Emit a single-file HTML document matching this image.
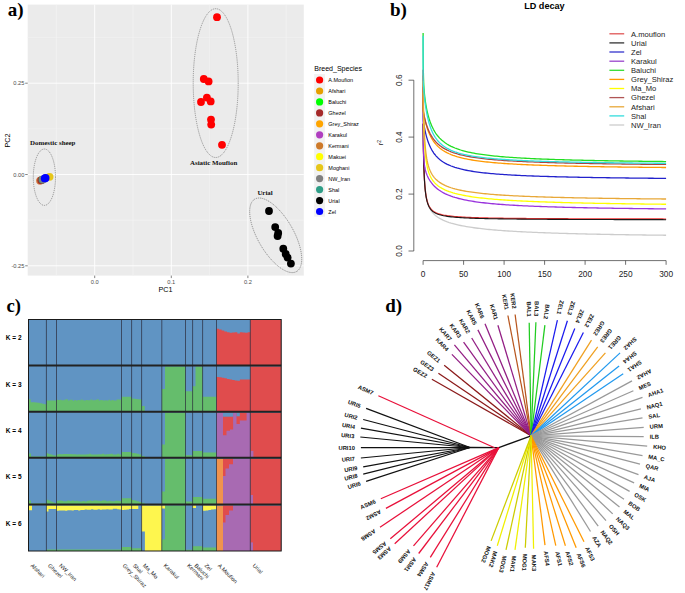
<!DOCTYPE html>
<html><head><meta charset="utf-8"><style>
html,body{margin:0;padding:0;background:#fff;}
body{width:685px;height:593px;overflow:hidden;font-family:"Liberation Sans",sans-serif;}
svg{display:block;}
</style></head><body>
<svg width="685" height="593" viewBox="0 0 685 593">
<rect width="685" height="593" fill="#fff"/>
<g id="pa">
<text transform="translate(7.7,15.8)" font-family='"Liberation Serif", serif' font-weight="bold" font-size="19">a)</text>
<rect x="27.7" y="4.6" width="276.1" height="271.0" fill="#ebebeb"/>
<line x1="56.4" y1="4.6" x2="56.4" y2="275.6" stroke="#f5f5f5" stroke-width="0.5"/>
<line x1="133.0" y1="4.6" x2="133.0" y2="275.6" stroke="#f5f5f5" stroke-width="0.5"/>
<line x1="209.6" y1="4.6" x2="209.6" y2="275.6" stroke="#f5f5f5" stroke-width="0.5"/>
<line x1="286.2" y1="4.6" x2="286.2" y2="275.6" stroke="#f5f5f5" stroke-width="0.5"/>
<line x1="27.7" y1="37.6" x2="303.8" y2="37.6" stroke="#f5f5f5" stroke-width="0.5"/>
<line x1="27.7" y1="128.8" x2="303.8" y2="128.8" stroke="#f5f5f5" stroke-width="0.5"/>
<line x1="27.7" y1="220.2" x2="303.8" y2="220.2" stroke="#f5f5f5" stroke-width="0.5"/>
<line x1="94.7" y1="4.6" x2="94.7" y2="275.6" stroke="#fff" stroke-width="0.9"/>
<line x1="94.7" y1="275.6" x2="94.7" y2="278.1" stroke="#333" stroke-width="0.6"/>
<text x="94.7" y="283.8" text-anchor="middle" font-family='"Liberation Sans", sans-serif' font-size="5.7" fill="#4d4d4d">0.0</text>
<line x1="171.3" y1="4.6" x2="171.3" y2="275.6" stroke="#fff" stroke-width="0.9"/>
<line x1="171.3" y1="275.6" x2="171.3" y2="278.1" stroke="#333" stroke-width="0.6"/>
<text x="171.3" y="283.8" text-anchor="middle" font-family='"Liberation Sans", sans-serif' font-size="5.7" fill="#4d4d4d">0.1</text>
<line x1="247.9" y1="4.6" x2="247.9" y2="275.6" stroke="#fff" stroke-width="0.9"/>
<line x1="247.9" y1="275.6" x2="247.9" y2="278.1" stroke="#333" stroke-width="0.6"/>
<text x="247.9" y="283.8" text-anchor="middle" font-family='"Liberation Sans", sans-serif' font-size="5.7" fill="#4d4d4d">0.2</text>
<line x1="27.7" y1="83.2" x2="303.8" y2="83.2" stroke="#fff" stroke-width="0.9"/>
<line x1="25.2" y1="83.2" x2="27.7" y2="83.2" stroke="#333" stroke-width="0.6"/>
<text x="24.4" y="85.3" text-anchor="end" font-family='"Liberation Sans", sans-serif' font-size="5.7" fill="#4d4d4d">0.25</text>
<line x1="27.7" y1="174.5" x2="303.8" y2="174.5" stroke="#fff" stroke-width="0.9"/>
<line x1="25.2" y1="174.5" x2="27.7" y2="174.5" stroke="#333" stroke-width="0.6"/>
<text x="24.4" y="176.6" text-anchor="end" font-family='"Liberation Sans", sans-serif' font-size="5.7" fill="#4d4d4d">0.00</text>
<line x1="27.7" y1="265.8" x2="303.8" y2="265.8" stroke="#fff" stroke-width="0.9"/>
<line x1="25.2" y1="265.8" x2="27.7" y2="265.8" stroke="#333" stroke-width="0.6"/>
<text x="24.4" y="267.9" text-anchor="end" font-family='"Liberation Sans", sans-serif' font-size="5.7" fill="#4d4d4d">-0.25</text>
<text x="165.5" y="292" text-anchor="middle" font-family='"Liberation Sans", sans-serif' font-size="7.2" fill="#000">PC1</text>
<text transform="translate(9.6,140.5) rotate(-90)" text-anchor="middle" font-family='"Liberation Sans", sans-serif' font-size="7.2" fill="#000">PC2</text>
<ellipse cx="44.4" cy="177.2" rx="11.1" ry="28.2" fill="none" stroke="#555" stroke-width="0.55" stroke-dasharray="1.2,0.9"/>
<ellipse cx="215.7" cy="83.1" rx="22.5" ry="74.4" fill="none" stroke="#555" stroke-width="0.55" stroke-dasharray="1.2,0.9"/>
<ellipse cx="0" cy="0" rx="41.8" ry="17.9" transform="translate(275.7,235.3) rotate(60)" fill="none" stroke="#555" stroke-width="0.55" stroke-dasharray="1.2,0.9"/>
<circle cx="217" cy="17.2" r="3.9" fill="#ff0000"/>
<circle cx="203.8" cy="79" r="3.9" fill="#ff0000"/>
<circle cx="208.6" cy="81.4" r="3.9" fill="#ff0000"/>
<circle cx="206.9" cy="97.6" r="3.9" fill="#ff0000"/>
<circle cx="201" cy="102" r="3.9" fill="#ff0000"/>
<circle cx="210.7" cy="101.4" r="3.9" fill="#ff0000"/>
<circle cx="211" cy="119.6" r="3.9" fill="#ff0000"/>
<circle cx="211.2" cy="124.6" r="3.9" fill="#ff0000"/>
<circle cx="222" cy="144.8" r="3.9" fill="#ff0000"/>
<circle cx="269" cy="211" r="3.9" fill="#000"/>
<circle cx="275.2" cy="227.1" r="3.9" fill="#000"/>
<circle cx="278.2" cy="233" r="3.9" fill="#000"/>
<circle cx="277.6" cy="236" r="3.9" fill="#000"/>
<circle cx="283.3" cy="248.7" r="3.9" fill="#000"/>
<circle cx="285.7" cy="254" r="3.9" fill="#000"/>
<circle cx="287.6" cy="257.6" r="3.9" fill="#000"/>
<circle cx="290.9" cy="263.6" r="3.9" fill="#000"/>
<circle cx="40.0" cy="180.8" r="3.9" fill="#e6a0a0"/>
<circle cx="40.2" cy="180.6" r="3.9" fill="#cd7f32"/>
<circle cx="41.3" cy="180.2" r="3.9" fill="#a52a2a"/>
<circle cx="42.5" cy="179.6" r="3.9" fill="#2e9e87"/>
<circle cx="43.2" cy="179.3" r="3.9" fill="#808080"/>
<circle cx="49.6" cy="176.8" r="3.9" fill="#e6c619"/>
<circle cx="44.7" cy="178.4" r="3.9" fill="#0000ff"/>
<circle cx="45.6" cy="177.9" r="3.9" fill="#0000ff"/>
<text x="30.1" y="145" font-family='"Liberation Serif", serif' font-weight="bold" font-size="6.9" fill="#111">Domestic sheep</text>
<text x="190" y="165.2" font-family='"Liberation Serif", serif' font-weight="bold" font-size="6.9" fill="#111">Asiatic Moufion</text>
<text x="257.4" y="195.2" font-family='"Liberation Serif", serif' font-weight="bold" font-size="6.9" fill="#111">Urial</text>
<text x="314.2" y="70.7" font-family='"Liberation Sans", sans-serif' font-size="7.05" fill="#000">Breed_Species</text>
<rect x="314.2" y="74" width="10.8" height="142.7" fill="#f2f2f2"/>
<circle cx="319.6" cy="80.0" r="3.6" fill="#ff0000"/>
<text x="328.3" y="82.0" font-family='"Liberation Sans", sans-serif' font-size="5.5" fill="#000">A.Moufion</text>
<circle cx="319.6" cy="91.0" r="3.6" fill="#e69f00"/>
<text x="328.3" y="93.0" font-family='"Liberation Sans", sans-serif' font-size="5.5" fill="#000">Afshari</text>
<circle cx="319.6" cy="101.9" r="3.6" fill="#00ff00"/>
<text x="328.3" y="103.9" font-family='"Liberation Sans", sans-serif' font-size="5.5" fill="#000">Baluchi</text>
<circle cx="319.6" cy="112.9" r="3.6" fill="#a52a2a"/>
<text x="328.3" y="114.9" font-family='"Liberation Sans", sans-serif' font-size="5.5" fill="#000">Ghezel</text>
<circle cx="319.6" cy="123.8" r="3.6" fill="#ffa500"/>
<text x="328.3" y="125.8" font-family='"Liberation Sans", sans-serif' font-size="5.5" fill="#000">Grey_Shiraz</text>
<circle cx="319.6" cy="134.8" r="3.6" fill="#b03fc0"/>
<text x="328.3" y="136.8" font-family='"Liberation Sans", sans-serif' font-size="5.5" fill="#000">Karakul</text>
<circle cx="319.6" cy="145.8" r="3.6" fill="#cd7a2a"/>
<text x="328.3" y="147.8" font-family='"Liberation Sans", sans-serif' font-size="5.5" fill="#000">Kermani</text>
<circle cx="319.6" cy="156.7" r="3.6" fill="#ffff00"/>
<text x="328.3" y="158.7" font-family='"Liberation Sans", sans-serif' font-size="5.5" fill="#000">Makuei</text>
<circle cx="319.6" cy="167.7" r="3.6" fill="#e6c619"/>
<text x="328.3" y="169.7" font-family='"Liberation Sans", sans-serif' font-size="5.5" fill="#000">Moghani</text>
<circle cx="319.6" cy="178.6" r="3.6" fill="#808080"/>
<text x="328.3" y="180.6" font-family='"Liberation Sans", sans-serif' font-size="5.5" fill="#000">NW_Iran</text>
<circle cx="319.6" cy="189.6" r="3.6" fill="#2e9e87"/>
<text x="328.3" y="191.6" font-family='"Liberation Sans", sans-serif' font-size="5.5" fill="#000">Shal</text>
<circle cx="319.6" cy="200.6" r="3.6" fill="#000000"/>
<text x="328.3" y="202.6" font-family='"Liberation Sans", sans-serif' font-size="5.5" fill="#000">Urial</text>
<circle cx="319.6" cy="211.5" r="3.6" fill="#0000ff"/>
<text x="328.3" y="213.5" font-family='"Liberation Sans", sans-serif' font-size="5.5" fill="#000">Zel</text>
</g>
<g id="pb">
<text transform="translate(390,15.8)" font-family='"Liberation Serif", serif' font-weight="bold" font-size="19">b)</text>
<text x="544.4" y="9" text-anchor="middle" font-family='"Liberation Sans", sans-serif' font-weight="bold" font-size="9.1">LD decay</text>
<line x1="413.8" y1="80.2" x2="413.8" y2="251.0" stroke="#333" stroke-width="0.7" fill="none"/>
<line x1="408.5" y1="251.0" x2="413.8" y2="251.0" stroke="#333" stroke-width="0.7" fill="none"/>
<text transform="translate(401.9,251.0) rotate(-90)" text-anchor="middle" font-family='"Liberation Sans", sans-serif' font-size="8.3" fill="#222">0.0</text>
<line x1="408.5" y1="194.1" x2="413.8" y2="194.1" stroke="#333" stroke-width="0.7" fill="none"/>
<text transform="translate(401.9,194.1) rotate(-90)" text-anchor="middle" font-family='"Liberation Sans", sans-serif' font-size="8.3" fill="#222">0.2</text>
<line x1="408.5" y1="137.1" x2="413.8" y2="137.1" stroke="#333" stroke-width="0.7" fill="none"/>
<text transform="translate(401.9,137.1) rotate(-90)" text-anchor="middle" font-family='"Liberation Sans", sans-serif' font-size="8.3" fill="#222">0.4</text>
<line x1="408.5" y1="80.2" x2="413.8" y2="80.2" stroke="#333" stroke-width="0.7" fill="none"/>
<text transform="translate(401.9,80.2) rotate(-90)" text-anchor="middle" font-family='"Liberation Sans", sans-serif' font-size="8.3" fill="#222">0.6</text>
<line x1="423.1" y1="260.6" x2="666.1" y2="260.6" stroke="#333" stroke-width="0.7" fill="none"/>
<line x1="423.1" y1="260.6" x2="423.1" y2="264.8" stroke="#333" stroke-width="0.7" fill="none"/>
<text x="423.1" y="277" text-anchor="middle" font-family='"Liberation Sans", sans-serif' font-size="8.3" fill="#222">0</text>
<line x1="463.6" y1="260.6" x2="463.6" y2="264.8" stroke="#333" stroke-width="0.7" fill="none"/>
<text x="463.6" y="277" text-anchor="middle" font-family='"Liberation Sans", sans-serif' font-size="8.3" fill="#222">50</text>
<line x1="504.1" y1="260.6" x2="504.1" y2="264.8" stroke="#333" stroke-width="0.7" fill="none"/>
<text x="504.1" y="277" text-anchor="middle" font-family='"Liberation Sans", sans-serif' font-size="8.3" fill="#222">100</text>
<line x1="544.6" y1="260.6" x2="544.6" y2="264.8" stroke="#333" stroke-width="0.7" fill="none"/>
<text x="544.6" y="277" text-anchor="middle" font-family='"Liberation Sans", sans-serif' font-size="8.3" fill="#222">150</text>
<line x1="585.1" y1="260.6" x2="585.1" y2="264.8" stroke="#333" stroke-width="0.7" fill="none"/>
<text x="585.1" y="277" text-anchor="middle" font-family='"Liberation Sans", sans-serif' font-size="8.3" fill="#222">200</text>
<line x1="625.6" y1="260.6" x2="625.6" y2="264.8" stroke="#333" stroke-width="0.7" fill="none"/>
<text x="625.6" y="277" text-anchor="middle" font-family='"Liberation Sans", sans-serif' font-size="8.3" fill="#222">250</text>
<line x1="666.1" y1="260.6" x2="666.1" y2="264.8" stroke="#333" stroke-width="0.7" fill="none"/>
<text x="666.1" y="277" text-anchor="middle" font-family='"Liberation Sans", sans-serif' font-size="8.3" fill="#222">300</text>
<text transform="translate(383,142.6) rotate(-90)" text-anchor="middle" font-family='"Liberation Sans", sans-serif' font-size="7.5" fill="#222">r<tspan dy="-2.5" font-size="5">2</tspan></text>
<polyline points="423.10,123.62 423.12,125.24 423.14,127.55 423.18,131.16 423.26,137.57 423.38,145.58 423.50,152.13 423.68,159.66 423.85,165.64 424.03,170.52 424.20,174.58 424.37,178.01 424.55,180.95 424.72,183.50 424.88,185.60 425.25,189.59 425.62,192.76 425.99,195.36 426.36,197.53 426.73,199.38 427.10,200.98 427.47,202.38 427.84,203.61 428.21,204.72 428.58,205.72 428.95,206.62 429.32,207.45 429.69,208.20 430.06,208.91 430.43,209.56 430.80,210.16 431.17,210.73 431.54,211.26 431.91,211.76 432.28,212.24 432.65,212.68 433.02,213.11 433.38,213.51 433.75,213.90 434.12,214.27 434.49,214.62 434.86,214.96 435.23,215.28 435.60,215.59 435.97,215.89 436.34,216.18 436.71,216.46 437.08,216.73 437.45,216.99 437.82,217.24 438.19,217.49 438.56,217.73 438.93,217.96 439.30,218.18 439.71,218.42 441.61,219.44 443.51,220.34 445.41,221.15 447.31,221.87 449.22,222.52 451.12,223.12 453.02,223.67 454.92,224.18 456.83,224.65 458.73,225.09 460.63,225.49 462.53,225.88 464.44,226.23 466.34,226.57 468.24,226.89 470.14,227.19 472.05,227.47 473.95,227.74 475.85,228.00 477.75,228.24 479.66,228.47 481.56,228.69 483.46,228.91 485.36,229.11 487.27,229.30 489.17,229.49 491.07,229.66 492.97,229.83 494.88,230.00 496.78,230.15 498.68,230.31 500.58,230.45 502.49,230.59 504.39,230.73 506.29,230.86 508.19,230.98 510.10,231.11 512.00,231.22 513.90,231.34 515.80,231.45 517.71,231.56 519.61,231.66 521.51,231.76 523.41,231.86 525.32,231.95 527.22,232.04 529.12,232.13 531.02,232.22 532.93,232.30 534.83,232.39 536.73,232.47 538.63,232.54 540.54,232.62 542.44,232.69 544.34,232.77 546.24,232.84 548.15,232.90 550.05,232.97 551.95,233.04 553.85,233.10 555.76,233.16 557.66,233.22 559.56,233.28 561.46,233.34 563.37,233.39 565.27,233.45 567.17,233.50 569.07,233.56 570.98,233.61 572.88,233.66 574.78,233.71 576.68,233.76 578.59,233.80 580.49,233.85 582.39,233.89 584.29,233.94 586.20,233.98 588.10,234.03 590.00,234.07 591.90,234.11 593.81,234.15 595.71,234.19 597.61,234.23 599.51,234.27 601.42,234.30 603.32,234.34 605.22,234.38 607.12,234.41 609.03,234.45 610.93,234.48 612.83,234.51 614.73,234.55 616.64,234.58 618.54,234.61 620.44,234.64 622.34,234.67 624.25,234.70 626.15,234.73 628.05,234.76 629.95,234.79 631.86,234.82 633.76,234.85 635.66,234.88 637.56,234.90 639.47,234.93 641.37,234.96 643.27,234.98 645.17,235.01 647.08,235.03 648.98,235.06 650.88,235.08 652.78,235.11 654.69,235.13 656.59,235.15 658.49,235.18 660.39,235.20 662.30,235.22 664.20,235.24 666.10,235.26" fill="none" stroke="#cccccc" stroke-width="1.3" stroke-linejoin="round"/>
<polyline points="423.10,123.27 423.12,124.87 423.14,127.16 423.18,130.74 423.26,137.13 423.38,145.15 423.50,151.75 423.68,159.37 423.85,165.45 424.03,170.41 424.20,174.53 424.37,178.02 424.55,181.00 424.72,183.58 424.88,185.70 425.25,189.70 425.62,192.85 425.99,195.40 426.36,197.50 426.73,199.27 427.10,200.77 427.47,202.06 427.84,203.18 428.21,204.17 428.58,205.05 428.95,205.83 429.32,206.53 429.69,207.16 430.06,207.73 430.43,208.25 430.80,208.73 431.17,209.16 431.54,209.57 431.91,209.94 432.28,210.28 432.65,210.60 433.02,210.90 433.38,211.18 433.75,211.45 434.12,211.69 434.49,211.92 434.86,212.14 435.23,212.34 435.60,212.54 435.97,212.72 436.34,212.90 436.71,213.06 437.08,213.22 437.45,213.37 437.82,213.51 438.19,213.65 438.56,213.78 438.93,213.90 439.30,214.02 439.71,214.14 441.61,214.66 443.51,215.08 445.41,215.43 447.31,215.74 449.22,215.99 451.12,216.22 453.02,216.41 454.92,216.59 456.83,216.74 458.73,216.88 460.63,217.01 462.53,217.12 464.44,217.22 466.34,217.32 468.24,217.40 470.14,217.48 472.05,217.56 473.95,217.62 475.85,217.69 477.75,217.75 479.66,217.80 481.56,217.85 483.46,217.90 485.36,217.95 487.27,217.99 489.17,218.03 491.07,218.07 492.97,218.10 494.88,218.14 496.78,218.17 498.68,218.20 500.58,218.23 502.49,218.26 504.39,218.28 506.29,218.31 508.19,218.33 510.10,218.36 512.00,218.38 513.90,218.40 515.80,218.42 517.71,218.44 519.61,218.46 521.51,218.48 523.41,218.50 525.32,218.51 527.22,218.53 529.12,218.55 531.02,218.56 532.93,218.57 534.83,218.59 536.73,218.60 538.63,218.62 540.54,218.63 542.44,218.64 544.34,218.65 546.24,218.66 548.15,218.68 550.05,218.69 551.95,218.70 553.85,218.71 555.76,218.72 557.66,218.73 559.56,218.74 561.46,218.75 563.37,218.75 565.27,218.76 567.17,218.77 569.07,218.78 570.98,218.79 572.88,218.80 574.78,218.80 576.68,218.81 578.59,218.82 580.49,218.83 582.39,218.83 584.29,218.84 586.20,218.85 588.10,218.85 590.00,218.86 591.90,218.86 593.81,218.87 595.71,218.88 597.61,218.88 599.51,218.89 601.42,218.89 603.32,218.90 605.22,218.90 607.12,218.91 609.03,218.91 610.93,218.92 612.83,218.92 614.73,218.93 616.64,218.93 618.54,218.94 620.44,218.94 622.34,218.95 624.25,218.95 626.15,218.96 628.05,218.96 629.95,218.96 631.86,218.97 633.76,218.97 635.66,218.98 637.56,218.98 639.47,218.98 641.37,218.99 643.27,218.99 645.17,219.00 647.08,219.00 648.98,219.00 650.88,219.01 652.78,219.01 654.69,219.01 656.59,219.02 658.49,219.02 660.39,219.02 662.30,219.02 664.20,219.03 666.10,219.03" fill="none" stroke="#ee3333" stroke-width="1.3" stroke-linejoin="round"/>
<polyline points="423.10,123.92 423.12,125.52 423.14,127.81 423.18,131.39 423.26,137.78 423.38,145.80 423.50,152.40 423.68,160.02 423.85,166.10 424.03,171.06 424.20,175.18 424.37,178.67 424.55,181.65 424.72,184.23 424.88,186.35 425.25,190.35 425.62,193.50 425.99,196.05 426.36,198.15 426.73,199.92 427.10,201.42 427.47,202.71 427.84,203.83 428.21,204.82 428.58,205.70 428.95,206.48 429.32,207.18 429.69,207.81 430.06,208.38 430.43,208.90 430.80,209.38 431.17,209.81 431.54,210.22 431.91,210.59 432.28,210.93 432.65,211.25 433.02,211.55 433.38,211.83 433.75,212.10 434.12,212.34 434.49,212.57 434.86,212.79 435.23,212.99 435.60,213.19 435.97,213.37 436.34,213.55 436.71,213.71 437.08,213.87 437.45,214.02 437.82,214.16 438.19,214.30 438.56,214.43 438.93,214.55 439.30,214.67 439.71,214.79 441.61,215.31 443.51,215.73 445.41,216.08 447.31,216.39 449.22,216.64 451.12,216.87 453.02,217.06 454.92,217.24 456.83,217.39 458.73,217.53 460.63,217.66 462.53,217.77 464.44,217.87 466.34,217.97 468.24,218.05 470.14,218.13 472.05,218.21 473.95,218.27 475.85,218.34 477.75,218.40 479.66,218.45 481.56,218.50 483.46,218.55 485.36,218.60 487.27,218.64 489.17,218.68 491.07,218.72 492.97,218.75 494.88,218.79 496.78,218.82 498.68,218.85 500.58,218.88 502.49,218.91 504.39,218.93 506.29,218.96 508.19,218.98 510.10,219.01 512.00,219.03 513.90,219.05 515.80,219.07 517.71,219.09 519.61,219.11 521.51,219.13 523.41,219.15 525.32,219.16 527.22,219.18 529.12,219.20 531.02,219.21 532.93,219.22 534.83,219.24 536.73,219.25 538.63,219.27 540.54,219.28 542.44,219.29 544.34,219.30 546.24,219.31 548.15,219.33 550.05,219.34 551.95,219.35 553.85,219.36 555.76,219.37 557.66,219.38 559.56,219.39 561.46,219.40 563.37,219.40 565.27,219.41 567.17,219.42 569.07,219.43 570.98,219.44 572.88,219.45 574.78,219.45 576.68,219.46 578.59,219.47 580.49,219.48 582.39,219.48 584.29,219.49 586.20,219.50 588.10,219.50 590.00,219.51 591.90,219.51 593.81,219.52 595.71,219.53 597.61,219.53 599.51,219.54 601.42,219.54 603.32,219.55 605.22,219.55 607.12,219.56 609.03,219.56 610.93,219.57 612.83,219.57 614.73,219.58 616.64,219.58 618.54,219.59 620.44,219.59 622.34,219.60 624.25,219.60 626.15,219.61 628.05,219.61 629.95,219.61 631.86,219.62 633.76,219.62 635.66,219.63 637.56,219.63 639.47,219.63 641.37,219.64 643.27,219.64 645.17,219.65 647.08,219.65 648.98,219.65 650.88,219.66 652.78,219.66 654.69,219.66 656.59,219.67 658.49,219.67 660.39,219.67 662.30,219.67 664.20,219.68 666.10,219.68" fill="none" stroke="#1a1a1a" stroke-width="1.1" stroke-linejoin="round"/>
<polyline points="423.10,86.77 423.12,108.79 423.14,114.44 423.18,117.20 423.26,119.17 423.38,120.63 423.50,121.68 423.68,122.95 423.85,124.09 424.03,125.16 424.20,126.18 424.37,127.14 424.55,128.07 424.72,128.97 424.88,129.77 425.25,131.51 425.62,133.13 425.99,134.64 426.36,136.06 426.73,137.39 427.10,138.64 427.47,139.82 427.84,140.94 428.21,142.00 428.58,143.00 428.95,143.95 429.32,144.85 429.69,145.71 430.06,146.53 430.43,147.31 430.80,148.06 431.17,148.77 431.54,149.46 431.91,150.11 432.28,150.74 432.65,151.34 433.02,151.92 433.38,152.47 433.75,153.01 434.12,153.52 434.49,154.02 434.86,154.49 435.23,154.95 435.60,155.40 435.97,155.83 436.34,156.24 436.71,156.64 437.08,157.03 437.45,157.41 437.82,157.77 438.19,158.12 438.56,158.47 438.93,158.80 439.30,159.12 439.71,159.46 441.61,160.93 443.51,162.21 445.41,163.33 447.31,164.32 449.22,165.20 451.12,166.00 453.02,166.71 454.92,167.36 456.83,167.95 458.73,168.48 460.63,168.98 462.53,169.43 464.44,169.85 466.34,170.24 468.24,170.61 470.14,170.94 472.05,171.26 473.95,171.55 475.85,171.83 477.75,172.09 479.66,172.34 481.56,172.57 483.46,172.79 485.36,172.99 487.27,173.19 489.17,173.38 491.07,173.55 492.97,173.72 494.88,173.88 496.78,174.04 498.68,174.18 500.58,174.32 502.49,174.45 504.39,174.58 506.29,174.71 508.19,174.82 510.10,174.94 512.00,175.04 513.90,175.15 515.80,175.25 517.71,175.35 519.61,175.44 521.51,175.53 523.41,175.62 525.32,175.70 527.22,175.78 529.12,175.86 531.02,175.94 532.93,176.01 534.83,176.08 536.73,176.15 538.63,176.22 540.54,176.28 542.44,176.34 544.34,176.40 546.24,176.46 548.15,176.52 550.05,176.58 551.95,176.63 553.85,176.68 555.76,176.74 557.66,176.79 559.56,176.84 561.46,176.88 563.37,176.93 565.27,176.97 567.17,177.02 569.07,177.06 570.98,177.10 572.88,177.14 574.78,177.18 576.68,177.22 578.59,177.26 580.49,177.30 582.39,177.33 584.29,177.37 586.20,177.41 588.10,177.44 590.00,177.47 591.90,177.51 593.81,177.54 595.71,177.57 597.61,177.60 599.51,177.63 601.42,177.66 603.32,177.69 605.22,177.71 607.12,177.74 609.03,177.77 610.93,177.80 612.83,177.82 614.73,177.85 616.64,177.87 618.54,177.90 620.44,177.92 622.34,177.95 624.25,177.97 626.15,177.99 628.05,178.01 629.95,178.04 631.86,178.06 633.76,178.08 635.66,178.10 637.56,178.12 639.47,178.14 641.37,178.16 643.27,178.18 645.17,178.20 647.08,178.22 648.98,178.24 650.88,178.25 652.78,178.27 654.69,178.29 656.59,178.31 658.49,178.33 660.39,178.34 662.30,178.36 664.20,178.38 666.10,178.39" fill="none" stroke="#2222cc" stroke-width="1.3" stroke-linejoin="round"/>
<polyline points="423.10,100.94 423.12,107.07 423.14,114.47 423.18,123.58 423.26,135.11 423.38,144.75 423.50,150.42 423.68,155.48 423.85,158.79 424.03,161.18 424.20,163.02 424.37,164.51 424.55,165.77 424.72,166.85 424.88,167.74 425.25,169.47 425.62,170.92 425.99,172.17 426.36,173.28 426.73,174.29 427.10,175.22 427.47,176.07 427.84,176.87 428.21,177.62 428.58,178.33 428.95,179.01 429.32,179.64 429.69,180.25 430.06,180.83 430.43,181.39 430.80,181.92 431.17,182.44 431.54,182.93 431.91,183.40 432.28,183.86 432.65,184.30 433.02,184.73 433.38,185.14 433.75,185.54 434.12,185.93 434.49,186.30 434.86,186.66 435.23,187.01 435.60,187.36 435.97,187.69 436.34,188.01 436.71,188.32 437.08,188.63 437.45,188.92 437.82,189.21 438.19,189.49 438.56,189.77 438.93,190.04 439.30,190.30 439.71,190.57 441.61,191.78 443.51,192.86 445.41,193.82 447.31,194.69 449.22,195.48 451.12,196.19 453.02,196.84 454.92,197.44 456.83,197.99 458.73,198.50 460.63,198.97 462.53,199.41 464.44,199.82 466.34,200.20 468.24,200.56 470.14,200.90 472.05,201.21 473.95,201.51 475.85,201.79 477.75,202.05 479.66,202.30 481.56,202.54 483.46,202.77 485.36,202.98 487.27,203.19 489.17,203.38 491.07,203.57 492.97,203.74 494.88,203.91 496.78,204.07 498.68,204.23 500.58,204.38 502.49,204.52 504.39,204.66 506.29,204.79 508.19,204.92 510.10,205.04 512.00,205.15 513.90,205.27 515.80,205.38 517.71,205.48 519.61,205.58 521.51,205.68 523.41,205.78 525.32,205.87 527.22,205.96 529.12,206.05 531.02,206.13 532.93,206.21 534.83,206.29 536.73,206.36 538.63,206.44 540.54,206.51 542.44,206.58 544.34,206.65 546.24,206.71 548.15,206.78 550.05,206.84 551.95,206.90 553.85,206.96 555.76,207.02 557.66,207.08 559.56,207.13 561.46,207.18 563.37,207.24 565.27,207.29 567.17,207.34 569.07,207.39 570.98,207.43 572.88,207.48 574.78,207.52 576.68,207.57 578.59,207.61 580.49,207.65 582.39,207.69 584.29,207.74 586.20,207.77 588.10,207.81 590.00,207.85 591.90,207.89 593.81,207.93 595.71,207.96 597.61,208.00 599.51,208.03 601.42,208.06 603.32,208.10 605.22,208.13 607.12,208.16 609.03,208.19 610.93,208.22 612.83,208.25 614.73,208.28 616.64,208.31 618.54,208.34 620.44,208.37 622.34,208.39 624.25,208.42 626.15,208.45 628.05,208.47 629.95,208.50 631.86,208.52 633.76,208.55 635.66,208.57 637.56,208.60 639.47,208.62 641.37,208.64 643.27,208.66 645.17,208.69 647.08,208.71 648.98,208.73 650.88,208.75 652.78,208.77 654.69,208.79 656.59,208.81 658.49,208.83 660.39,208.85 662.30,208.87 664.20,208.89 666.10,208.91" fill="none" stroke="#9933dd" stroke-width="1.3" stroke-linejoin="round"/>
<polyline points="423.10,32.90 423.12,38.60 423.14,45.35 423.18,53.51 423.26,63.70 423.38,72.26 423.50,77.47 423.68,82.42 423.85,85.94 424.03,88.69 424.20,90.98 424.37,92.97 424.55,94.74 424.72,96.35 424.88,97.73 425.25,100.57 425.62,103.07 425.99,105.32 426.36,107.37 426.73,109.26 427.10,111.01 427.47,112.64 427.84,114.16 428.21,115.58 428.58,116.92 428.95,118.19 429.32,119.39 429.69,120.52 430.06,121.59 430.43,122.61 430.80,123.59 431.17,124.51 431.54,125.40 431.91,126.24 432.28,127.05 432.65,127.82 433.02,128.56 433.38,129.28 433.75,129.96 434.12,130.62 434.49,131.25 434.86,131.86 435.23,132.44 435.60,133.01 435.97,133.55 436.34,134.08 436.71,134.58 437.08,135.07 437.45,135.55 437.82,136.01 438.19,136.45 438.56,136.88 438.93,137.30 439.30,137.71 439.71,138.14 441.61,139.98 443.51,141.58 445.41,142.98 447.31,144.22 449.22,145.32 451.12,146.30 453.02,147.19 454.92,147.99 456.83,148.72 458.73,149.38 460.63,150.00 462.53,150.56 464.44,151.08 466.34,151.56 468.24,152.01 470.14,152.42 472.05,152.81 473.95,153.18 475.85,153.52 477.75,153.84 479.66,154.14 481.56,154.42 483.46,154.69 485.36,154.95 487.27,155.19 489.17,155.42 491.07,155.63 492.97,155.84 494.88,156.04 496.78,156.22 498.68,156.40 500.58,156.58 502.49,156.74 504.39,156.90 506.29,157.05 508.19,157.19 510.10,157.33 512.00,157.46 513.90,157.59 515.80,157.71 517.71,157.83 519.61,157.95 521.51,158.06 523.41,158.16 525.32,158.27 527.22,158.37 529.12,158.46 531.02,158.55 532.93,158.64 534.83,158.73 536.73,158.82 538.63,158.90 540.54,158.98 542.44,159.05 544.34,159.13 546.24,159.20 548.15,159.27 550.05,159.34 551.95,159.41 553.85,159.47 555.76,159.53 557.66,159.59 559.56,159.65 561.46,159.71 563.37,159.77 565.27,159.82 567.17,159.88 569.07,159.93 570.98,159.98 572.88,160.03 574.78,160.08 576.68,160.13 578.59,160.18 580.49,160.22 582.39,160.27 584.29,160.31 586.20,160.35 588.10,160.39 590.00,160.43 591.90,160.47 593.81,160.51 595.71,160.55 597.61,160.59 599.51,160.62 601.42,160.66 603.32,160.69 605.22,160.73 607.12,160.76 609.03,160.80 610.93,160.83 612.83,160.86 614.73,160.89 616.64,160.92 618.54,160.95 620.44,160.98 622.34,161.01 624.25,161.04 626.15,161.07 628.05,161.09 629.95,161.12 631.86,161.15 633.76,161.17 635.66,161.20 637.56,161.22 639.47,161.25 641.37,161.27 643.27,161.30 645.17,161.32 647.08,161.34 648.98,161.37 650.88,161.39 652.78,161.41 654.69,161.43 656.59,161.45 658.49,161.47 660.39,161.50 662.30,161.52 664.20,161.54 666.10,161.56" fill="none" stroke="#22dd22" stroke-width="1.3" stroke-linejoin="round"/>
<polyline points="423.10,75.43 423.12,98.93 423.14,104.93 423.18,107.84 423.26,109.84 423.38,111.25 423.50,112.23 423.68,113.40 423.85,114.44 424.03,115.41 424.20,116.33 424.37,117.21 424.55,118.06 424.72,118.87 424.88,119.60 425.25,121.20 425.62,122.69 425.99,124.08 426.36,125.40 426.73,126.64 427.10,127.81 427.47,128.92 427.84,129.97 428.21,130.97 428.58,131.92 428.95,132.83 429.32,133.69 429.69,134.51 430.06,135.30 430.43,136.05 430.80,136.77 431.17,137.46 431.54,138.12 431.91,138.75 432.28,139.36 432.65,139.95 433.02,140.51 433.38,141.06 433.75,141.58 434.12,142.08 434.49,142.57 434.86,143.04 435.23,143.49 435.60,143.93 435.97,144.36 436.34,144.77 436.71,145.16 437.08,145.55 437.45,145.92 437.82,146.28 438.19,146.64 438.56,146.98 438.93,147.31 439.30,147.63 439.71,147.97 441.61,149.44 443.51,150.73 445.41,151.86 447.31,152.87 449.22,153.77 451.12,154.58 453.02,155.31 454.92,155.97 456.83,156.58 458.73,157.13 460.63,157.64 462.53,158.11 464.44,158.55 466.34,158.95 468.24,159.33 470.14,159.68 472.05,160.01 473.95,160.31 475.85,160.60 477.75,160.87 479.66,161.13 481.56,161.37 483.46,161.60 485.36,161.81 487.27,162.02 489.17,162.21 491.07,162.40 492.97,162.58 494.88,162.74 496.78,162.91 498.68,163.06 500.58,163.21 502.49,163.35 504.39,163.48 506.29,163.61 508.19,163.73 510.10,163.85 512.00,163.97 513.90,164.08 515.80,164.18 517.71,164.28 519.61,164.38 521.51,164.48 523.41,164.57 525.32,164.66 527.22,164.74 529.12,164.83 531.02,164.91 532.93,164.98 534.83,165.06 536.73,165.13 538.63,165.20 540.54,165.27 542.44,165.34 544.34,165.40 546.24,165.46 548.15,165.53 550.05,165.58 551.95,165.64 553.85,165.70 555.76,165.75 557.66,165.81 559.56,165.86 561.46,165.91 563.37,165.96 565.27,166.00 567.17,166.05 569.07,166.10 570.98,166.14 572.88,166.18 574.78,166.23 576.68,166.27 578.59,166.31 580.49,166.35 582.39,166.39 584.29,166.42 586.20,166.46 588.10,166.50 590.00,166.53 591.90,166.57 593.81,166.60 595.71,166.63 597.61,166.67 599.51,166.70 601.42,166.73 603.32,166.76 605.22,166.79 607.12,166.82 609.03,166.85 610.93,166.88 612.83,166.90 614.73,166.93 616.64,166.96 618.54,166.98 620.44,167.01 622.34,167.03 624.25,167.06 626.15,167.08 628.05,167.11 629.95,167.13 631.86,167.15 633.76,167.18 635.66,167.20 637.56,167.22 639.47,167.24 641.37,167.26 643.27,167.28 645.17,167.31 647.08,167.33 648.98,167.34 650.88,167.36 652.78,167.38 654.69,167.40 656.59,167.42 658.49,167.44 660.39,167.46 662.30,167.48 664.20,167.49 666.10,167.51" fill="none" stroke="#ff9900" stroke-width="1.3" stroke-linejoin="round"/>
<polyline points="423.10,92.44 423.12,93.64 423.14,95.40 423.18,98.17 423.26,103.26 423.38,109.89 423.50,115.56 423.68,122.38 423.85,128.04 424.03,132.81 424.20,136.90 424.37,140.43 424.55,143.53 424.72,146.26 424.88,148.55 425.25,152.97 425.62,156.57 425.99,159.56 426.36,162.10 426.73,164.27 427.10,166.17 427.47,167.84 427.84,169.32 428.21,170.65 428.58,171.86 428.95,172.95 429.32,173.95 429.69,174.86 430.06,175.71 430.43,176.50 430.80,177.23 431.17,177.91 431.54,178.56 431.91,179.16 432.28,179.73 432.65,180.26 433.02,180.77 433.38,181.26 433.75,181.71 434.12,182.15 434.49,182.57 434.86,182.97 435.23,183.35 435.60,183.72 435.97,184.07 436.34,184.41 436.71,184.73 437.08,185.05 437.45,185.35 437.82,185.64 438.19,185.93 438.56,186.20 438.93,186.46 439.30,186.72 439.71,186.99 441.61,188.16 443.51,189.17 445.41,190.07 447.31,190.86 449.22,191.58 451.12,192.23 453.02,192.82 454.92,193.36 456.83,193.85 458.73,194.31 460.63,194.74 462.53,195.14 464.44,195.51 466.34,195.86 468.24,196.18 470.14,196.49 472.05,196.78 473.95,197.05 475.85,197.31 477.75,197.55 479.66,197.78 481.56,198.00 483.46,198.21 485.36,198.42 487.27,198.61 489.17,198.79 491.07,198.96 492.97,199.13 494.88,199.29 496.78,199.45 498.68,199.59 500.58,199.73 502.49,199.87 504.39,200.00 506.29,200.13 508.19,200.25 510.10,200.37 512.00,200.48 513.90,200.59 515.80,200.70 517.71,200.80 519.61,200.90 521.51,201.00 523.41,201.09 525.32,201.18 527.22,201.27 529.12,201.35 531.02,201.44 532.93,201.52 534.83,201.59 536.73,201.67 538.63,201.74 540.54,201.81 542.44,201.88 544.34,201.95 546.24,202.02 548.15,202.08 550.05,202.14 551.95,202.21 553.85,202.27 555.76,202.32 557.66,202.38 559.56,202.44 561.46,202.49 563.37,202.54 565.27,202.59 567.17,202.64 569.07,202.69 570.98,202.74 572.88,202.79 574.78,202.83 576.68,202.88 578.59,202.92 580.49,202.97 582.39,203.01 584.29,203.05 586.20,203.09 588.10,203.13 590.00,203.17 591.90,203.21 593.81,203.24 595.71,203.28 597.61,203.32 599.51,203.35 601.42,203.39 603.32,203.42 605.22,203.45 607.12,203.49 609.03,203.52 610.93,203.55 612.83,203.58 614.73,203.61 616.64,203.64 618.54,203.67 620.44,203.70 622.34,203.73 624.25,203.76 626.15,203.78 628.05,203.81 629.95,203.84 631.86,203.86 633.76,203.89 635.66,203.91 637.56,203.94 639.47,203.96 641.37,203.99 643.27,204.01 645.17,204.03 647.08,204.06 648.98,204.08 650.88,204.10 652.78,204.12 654.69,204.15 656.59,204.17 658.49,204.19 660.39,204.21 662.30,204.23 664.20,204.25 666.10,204.27" fill="none" stroke="#ffff00" stroke-width="1.3" stroke-linejoin="round"/>
<polyline points="423.10,69.76 423.12,97.29 423.14,104.28 423.18,107.62 423.26,109.83 423.38,111.29 423.50,112.24 423.68,113.35 423.85,114.31 424.03,115.20 424.20,116.04 424.37,116.84 424.55,117.61 424.72,118.35 424.88,119.02 425.25,120.47 425.62,121.83 425.99,123.11 426.36,124.32 426.73,125.46 427.10,126.54 427.47,127.56 427.84,128.53 428.21,129.46 428.58,130.34 428.95,131.18 429.32,131.98 429.69,132.74 430.06,133.48 430.43,134.18 430.80,134.85 431.17,135.50 431.54,136.12 431.91,136.71 432.28,137.29 432.65,137.84 433.02,138.37 433.38,138.88 433.75,139.37 434.12,139.85 434.49,140.31 434.86,140.75 435.23,141.18 435.60,141.60 435.97,142.00 436.34,142.39 436.71,142.77 437.08,143.14 437.45,143.49 437.82,143.84 438.19,144.17 438.56,144.50 438.93,144.81 439.30,145.12 439.71,145.44 441.61,146.85 443.51,148.09 445.41,149.18 447.31,150.15 449.22,151.02 451.12,151.80 453.02,152.51 454.92,153.15 456.83,153.74 458.73,154.28 460.63,154.77 462.53,155.23 464.44,155.65 466.34,156.05 468.24,156.42 470.14,156.76 472.05,157.08 473.95,157.38 475.85,157.66 477.75,157.93 479.66,158.18 481.56,158.41 483.46,158.64 485.36,158.85 487.27,159.05 489.17,159.24 491.07,159.42 492.97,159.60 494.88,159.76 496.78,159.92 498.68,160.07 500.58,160.22 502.49,160.35 504.39,160.49 506.29,160.61 508.19,160.74 510.10,160.85 512.00,160.97 513.90,161.07 515.80,161.18 517.71,161.28 519.61,161.38 521.51,161.47 523.41,161.56 525.32,161.65 527.22,161.73 529.12,161.81 531.02,161.89 532.93,161.97 534.83,162.04 536.73,162.12 538.63,162.19 540.54,162.25 542.44,162.32 544.34,162.38 546.24,162.44 548.15,162.50 550.05,162.56 551.95,162.62 553.85,162.68 555.76,162.73 557.66,162.78 559.56,162.83 561.46,162.88 563.37,162.93 565.27,162.98 567.17,163.02 569.07,163.07 570.98,163.11 572.88,163.16 574.78,163.20 576.68,163.24 578.59,163.28 580.49,163.32 582.39,163.36 584.29,163.39 586.20,163.43 588.10,163.47 590.00,163.50 591.90,163.54 593.81,163.57 595.71,163.60 597.61,163.63 599.51,163.67 601.42,163.70 603.32,163.73 605.22,163.76 607.12,163.79 609.03,163.81 610.93,163.84 612.83,163.87 614.73,163.90 616.64,163.92 618.54,163.95 620.44,163.97 622.34,164.00 624.25,164.02 626.15,164.05 628.05,164.07 629.95,164.09 631.86,164.12 633.76,164.14 635.66,164.16 637.56,164.18 639.47,164.20 641.37,164.23 643.27,164.25 645.17,164.27 647.08,164.29 648.98,164.31 650.88,164.33 652.78,164.34 654.69,164.36 656.59,164.38 658.49,164.40 660.39,164.42 662.30,164.43 664.20,164.45 666.10,164.47" fill="none" stroke="#aa4444" stroke-width="1.3" stroke-linejoin="round"/>
<polyline points="423.10,81.10 423.12,82.43 423.14,84.36 423.18,87.42 423.26,93.00 423.38,100.24 423.50,106.40 423.68,113.77 423.85,119.86 424.03,124.98 424.20,129.35 424.37,133.12 424.55,136.42 424.72,139.33 424.88,141.75 425.25,146.44 425.62,150.25 425.99,153.42 426.36,156.10 426.73,158.40 427.10,160.40 427.47,162.17 427.84,163.74 428.21,165.14 428.58,166.42 428.95,167.57 429.32,168.63 429.69,169.60 430.06,170.50 430.43,171.33 430.80,172.10 431.17,172.83 431.54,173.51 431.91,174.14 432.28,174.74 432.65,175.31 433.02,175.85 433.38,176.36 433.75,176.84 434.12,177.31 434.49,177.75 434.86,178.17 435.23,178.57 435.60,178.96 435.97,179.33 436.34,179.68 436.71,180.02 437.08,180.35 437.45,180.67 437.82,180.98 438.19,181.27 438.56,181.56 438.93,181.83 439.30,182.10 439.71,182.38 441.61,183.59 443.51,184.64 445.41,185.56 447.31,186.37 449.22,187.10 451.12,187.75 453.02,188.34 454.92,188.88 456.83,189.37 458.73,189.83 460.63,190.25 462.53,190.64 464.44,191.00 466.34,191.33 468.24,191.65 470.14,191.94 472.05,192.22 473.95,192.48 475.85,192.73 477.75,192.96 479.66,193.18 481.56,193.39 483.46,193.59 485.36,193.77 487.27,193.95 489.17,194.12 491.07,194.29 492.97,194.44 494.88,194.59 496.78,194.73 498.68,194.87 500.58,195.00 502.49,195.12 504.39,195.24 506.29,195.36 508.19,195.47 510.10,195.58 512.00,195.68 513.90,195.78 515.80,195.88 517.71,195.97 519.61,196.06 521.51,196.15 523.41,196.23 525.32,196.31 527.22,196.39 529.12,196.47 531.02,196.54 532.93,196.61 534.83,196.68 536.73,196.75 538.63,196.82 540.54,196.88 542.44,196.94 544.34,197.00 546.24,197.06 548.15,197.12 550.05,197.17 551.95,197.23 553.85,197.28 555.76,197.33 557.66,197.38 559.56,197.43 561.46,197.48 563.37,197.52 565.27,197.57 567.17,197.61 569.07,197.66 570.98,197.70 572.88,197.74 574.78,197.78 576.68,197.82 578.59,197.86 580.49,197.90 582.39,197.93 584.29,197.97 586.20,198.00 588.10,198.04 590.00,198.07 591.90,198.11 593.81,198.14 595.71,198.17 597.61,198.20 599.51,198.23 601.42,198.26 603.32,198.29 605.22,198.32 607.12,198.35 609.03,198.38 610.93,198.40 612.83,198.43 614.73,198.46 616.64,198.48 618.54,198.51 620.44,198.53 622.34,198.56 624.25,198.58 626.15,198.61 628.05,198.63 629.95,198.65 631.86,198.67 633.76,198.70 635.66,198.72 637.56,198.74 639.47,198.76 641.37,198.78 643.27,198.80 645.17,198.82 647.08,198.84 648.98,198.86 650.88,198.88 652.78,198.90 654.69,198.92 656.59,198.94 658.49,198.95 660.39,198.97 662.30,198.99 664.20,199.01 666.10,199.02" fill="none" stroke="#e8a838" stroke-width="1.3" stroke-linejoin="round"/>
<polyline points="423.10,35.74 423.12,67.51 423.14,75.71 423.18,79.82 423.26,82.89 423.38,85.32 423.50,87.14 423.68,89.37 423.85,91.38 424.03,93.25 424.20,95.00 424.37,96.66 424.55,98.23 424.72,99.73 424.88,101.07 425.25,103.92 425.62,106.52 425.99,108.91 426.36,111.11 426.73,113.14 427.10,115.03 427.47,116.79 427.84,118.42 428.21,119.95 428.58,121.38 428.95,122.73 429.32,123.99 429.69,125.18 430.06,126.31 430.43,127.37 430.80,128.38 431.17,129.34 431.54,130.24 431.91,131.11 432.28,131.93 432.65,132.71 433.02,133.46 433.38,134.17 433.75,134.86 434.12,135.51 434.49,136.13 434.86,136.73 435.23,137.31 435.60,137.86 435.97,138.40 436.34,138.91 436.71,139.40 437.08,139.88 437.45,140.33 437.82,140.78 438.19,141.20 438.56,141.61 438.93,142.01 439.30,142.40 439.71,142.81 441.61,144.54 443.51,146.03 445.41,147.32 447.31,148.45 449.22,149.45 451.12,150.33 453.02,151.12 454.92,151.84 456.83,152.48 458.73,153.07 460.63,153.61 462.53,154.10 464.44,154.55 466.34,154.97 468.24,155.35 470.14,155.71 472.05,156.05 473.95,156.36 475.85,156.65 477.75,156.92 479.66,157.18 481.56,157.42 483.46,157.65 485.36,157.87 487.27,158.07 489.17,158.26 491.07,158.45 492.97,158.62 494.88,158.79 496.78,158.94 498.68,159.09 500.58,159.24 502.49,159.38 504.39,159.51 506.29,159.63 508.19,159.75 510.10,159.87 512.00,159.98 513.90,160.09 515.80,160.19 517.71,160.29 519.61,160.38 521.51,160.47 523.41,160.56 525.32,160.65 527.22,160.73 529.12,160.81 531.02,160.88 532.93,160.96 534.83,161.03 536.73,161.10 538.63,161.17 540.54,161.23 542.44,161.30 544.34,161.36 546.24,161.42 548.15,161.47 550.05,161.53 551.95,161.59 553.85,161.64 555.76,161.69 557.66,161.74 559.56,161.79 561.46,161.84 563.37,161.88 565.27,161.93 567.17,161.97 569.07,162.02 570.98,162.06 572.88,162.10 574.78,162.14 576.68,162.18 578.59,162.22 580.49,162.25 582.39,162.29 584.29,162.32 586.20,162.36 588.10,162.39 590.00,162.43 591.90,162.46 593.81,162.49 595.71,162.52 597.61,162.55 599.51,162.58 601.42,162.61 603.32,162.64 605.22,162.67 607.12,162.70 609.03,162.72 610.93,162.75 612.83,162.77 614.73,162.80 616.64,162.82 618.54,162.85 620.44,162.87 622.34,162.90 624.25,162.92 626.15,162.94 628.05,162.96 629.95,162.99 631.86,163.01 633.76,163.03 635.66,163.05 637.56,163.07 639.47,163.09 641.37,163.11 643.27,163.13 645.17,163.15 647.08,163.17 648.98,163.19 650.88,163.20 652.78,163.22 654.69,163.24 656.59,163.26 658.49,163.27 660.39,163.29 662.30,163.31 664.20,163.32 666.10,163.34" fill="none" stroke="#33dddd" stroke-width="1.3" stroke-linejoin="round"/>
<line x1="609.4" y1="33.8" x2="624.2" y2="33.8" stroke="#e05555" stroke-width="1.3"/>
<text x="631" y="36.5" font-family='"Liberation Sans", sans-serif' font-size="7.6" fill="#222">A.mouflon</text>
<line x1="609.4" y1="42.9" x2="624.2" y2="42.9" stroke="#333333" stroke-width="1.3"/>
<text x="631" y="45.6" font-family='"Liberation Sans", sans-serif' font-size="7.6" fill="#222">Urial</text>
<line x1="609.4" y1="52.0" x2="624.2" y2="52.0" stroke="#3333cc" stroke-width="1.3"/>
<text x="631" y="54.7" font-family='"Liberation Sans", sans-serif' font-size="7.6" fill="#222">Zel</text>
<line x1="609.4" y1="61.2" x2="624.2" y2="61.2" stroke="#9944cc" stroke-width="1.3"/>
<text x="631" y="63.9" font-family='"Liberation Sans", sans-serif' font-size="7.6" fill="#222">Karakul</text>
<line x1="609.4" y1="70.3" x2="624.2" y2="70.3" stroke="#33dd33" stroke-width="1.3"/>
<text x="631" y="73.0" font-family='"Liberation Sans", sans-serif' font-size="7.6" fill="#222">Baluchi</text>
<line x1="609.4" y1="79.4" x2="624.2" y2="79.4" stroke="#ff9900" stroke-width="1.3"/>
<text x="631" y="82.1" font-family='"Liberation Sans", sans-serif' font-size="7.6" fill="#222">Grey_Shiraz</text>
<line x1="609.4" y1="88.5" x2="624.2" y2="88.5" stroke="#ffff00" stroke-width="1.3"/>
<text x="631" y="91.2" font-family='"Liberation Sans", sans-serif' font-size="7.6" fill="#222">Ma_Mo</text>
<line x1="609.4" y1="97.6" x2="624.2" y2="97.6" stroke="#b05555" stroke-width="1.3"/>
<text x="631" y="100.3" font-family='"Liberation Sans", sans-serif' font-size="7.6" fill="#222">Ghezel</text>
<line x1="609.4" y1="106.8" x2="624.2" y2="106.8" stroke="#e8a838" stroke-width="1.3"/>
<text x="631" y="109.5" font-family='"Liberation Sans", sans-serif' font-size="7.6" fill="#222">Afshari</text>
<line x1="609.4" y1="115.9" x2="624.2" y2="115.9" stroke="#33dddd" stroke-width="1.3"/>
<text x="631" y="118.6" font-family='"Liberation Sans", sans-serif' font-size="7.6" fill="#222">Shal</text>
<line x1="609.4" y1="125.0" x2="624.2" y2="125.0" stroke="#cccccc" stroke-width="1.3"/>
<text x="631" y="127.7" font-family='"Liberation Sans", sans-serif' font-size="7.6" fill="#222">NW_Iran</text>
</g>
<g id="pc">
<text transform="translate(6.6,312.4)" font-family='"Liberation Serif", serif' font-weight="bold" font-size="18.6">c)</text>
<rect x="28.5" y="319.5" width="252.7" height="231.5" fill="#6094c3"/>
<path d="M216.50,365.50 L216.50,328.70 L219.10,328.70 L219.10,329.40 L221.70,329.40 L221.70,330.50 L224.30,330.50 L224.30,331.50 L226.90,331.50 L226.90,332.20 L229.50,332.20 L229.50,332.70 L232.10,332.70 L232.10,332.40 L234.70,332.40 L234.70,332.20 L237.30,332.20 L237.30,333.40 L239.90,333.40 L239.90,332.20 L242.50,332.20 L242.50,332.50 L245.10,332.50 L245.10,332.70 L247.70,332.70 L247.70,332.20 L250.30,332.20 L250.30,319.80 L281.20,319.80 L281.20,365.50 Z" fill="#e04c4d"/>
<path d="M28.50,411.80 L28.50,399.30 L30.70,399.30 L30.70,402.20 L32.94,402.20 L32.94,402.30 L35.19,402.30 L35.19,402.50 L37.43,402.50 L37.43,402.80 L39.67,402.80 L39.67,403.20 L41.91,403.20 L41.91,403.80 L44.16,403.80 L44.16,404.20 L46.40,404.20 L46.40,400.50 L56.50,400.50 L56.50,399.63 L58.12,399.63 L58.12,400.06 L59.75,400.06 L59.75,399.82 L61.38,399.82 L61.38,400.15 L63.00,400.15 L63.00,400.18 L64.62,400.18 L64.62,399.39 L66.25,399.39 L66.25,399.32 L67.88,399.32 L67.88,400.47 L69.50,400.47 L69.50,399.66 L71.12,399.66 L71.12,399.63 L72.75,399.63 L72.75,400.69 L74.38,400.69 L74.38,399.96 L76.00,399.96 L76.00,400.47 L77.62,400.47 L77.62,399.97 L79.25,399.97 L79.25,400.19 L80.88,400.19 L80.88,399.51 L82.50,399.51 L82.50,400.19 L84.12,400.19 L84.12,400.52 L85.75,400.52 L85.75,400.03 L87.38,400.03 L87.38,400.34 L89.00,400.34 L89.00,400.24 L90.62,400.24 L90.62,399.39 L92.25,399.39 L92.25,400.36 L93.88,400.36 L93.88,400.13 L95.50,400.13 L95.50,399.72 L97.12,399.72 L97.12,399.34 L98.75,399.34 L98.75,400.51 L100.38,400.51 L100.38,399.96 L102.00,399.96 L102.00,400.31 L103.62,400.31 L103.62,400.53 L105.25,400.53 L105.25,400.30 L106.88,400.30 L106.88,400.59 L108.50,400.59 L108.50,399.85 L110.12,399.85 L110.12,400.42 L111.75,400.42 L111.75,399.92 L113.38,399.92 L113.38,400.61 L115.00,400.61 L115.00,400.53 L116.62,400.53 L116.62,399.44 L118.25,399.44 L118.25,399.49 L119.88,399.49 L119.88,399.60 L121.50,399.60 L121.50,396.80 L131.60,396.80 L131.60,398.60 L133.60,398.60 L133.60,398.80 L135.60,398.80 L135.60,399.00 L137.60,399.00 L137.60,399.20 L139.60,399.20 L139.60,399.50 L141.60,399.50 L141.60,405.90 L144.70,405.90 L144.70,411.80 L161.80,411.80 L161.80,389.00 L165.00,389.00 L165.00,366.50 L185.50,366.50 L185.50,391.20 L192.60,391.20 L192.60,386.20 L195.50,386.20 L195.50,366.50 L202.60,366.50 L202.60,396.80 L216.50,396.80 L216.50,411.80 Z" fill="#65bd6c"/>
<path d="M216.50,411.80 L216.50,377.00 L219.10,377.00 L219.10,377.30 L221.70,377.30 L221.70,377.70 L224.30,377.70 L224.30,378.30 L226.90,378.30 L226.90,378.90 L229.50,378.90 L229.50,379.50 L232.10,379.50 L232.10,380.10 L234.70,380.10 L234.70,380.50 L237.30,380.50 L237.30,380.80 L239.90,380.80 L239.90,379.40 L242.50,379.40 L242.50,379.60 L245.10,379.60 L245.10,379.50 L247.70,379.50 L247.70,379.40 L250.30,379.40 L250.30,366.50 L281.20,366.50 L281.20,411.80 Z" fill="#e04c4d"/>
<path d="M28.50,457.80 L28.50,453.60 L31.00,453.60 L31.00,456.60 L46.40,456.60 L46.40,453.30 L48.42,453.30 L48.42,454.00 L50.44,454.00 L50.44,454.60 L52.46,454.60 L52.46,455.20 L54.48,455.20 L54.48,455.60 L56.50,455.60 L56.50,454.57 L58.67,454.57 L58.67,454.04 L60.83,454.04 L60.83,454.23 L63.00,454.23 L63.00,453.90 L65.17,453.90 L65.17,454.11 L67.33,454.11 L67.33,453.99 L69.50,453.99 L69.50,453.95 L71.67,453.95 L71.67,454.19 L73.83,454.19 L73.83,454.18 L76.00,454.18 L76.00,454.50 L78.17,454.50 L78.17,454.28 L80.33,454.28 L80.33,454.53 L82.50,454.53 L82.50,454.46 L84.67,454.46 L84.67,454.59 L86.83,454.59 L86.83,454.27 L89.00,454.27 L89.00,453.76 L91.17,453.76 L91.17,454.46 L93.33,454.46 L93.33,454.56 L95.50,454.56 L95.50,454.50 L97.67,454.50 L97.67,454.17 L99.83,454.17 L99.83,454.31 L102.00,454.31 L102.00,453.81 L104.17,453.81 L104.17,454.43 L106.33,454.43 L106.33,454.17 L108.50,454.17 L108.50,453.88 L110.67,453.88 L110.67,453.66 L112.83,453.66 L112.83,454.45 L115.00,454.45 L115.00,454.59 L117.17,454.59 L117.17,453.69 L119.33,453.69 L119.33,454.40 L121.50,454.40 L121.50,452.00 L131.60,452.00 L131.60,453.00 L134.10,453.00 L134.10,453.30 L136.60,453.30 L136.60,453.80 L139.10,453.80 L139.10,454.50 L141.60,454.50 L141.60,456.00 L144.70,456.00 L144.70,457.80 L161.80,457.80 L161.80,444.40 L165.00,444.40 L165.00,412.80 L185.50,412.80 L185.50,455.30 L192.60,455.30 L192.60,451.10 L202.60,451.10 L202.60,452.50 L216.50,452.50 L216.50,457.80 Z" fill="#65bd6c"/>
<rect x="216.50" y="412.80" width="33.80" height="45.00" fill="#a86ab2"/>
<rect x="250.30" y="412.80" width="30.90" height="45.00" fill="#e04c4d"/>
<path d="M223.00,412.80 L223.00,435.30 L226.50,435.30 L226.50,430.70 L230.00,430.70 L230.00,429.60 L233.10,429.60 L233.10,412.80 Z" fill="#e04c4d"/>
<rect x="223.00" y="412.80" width="10.10" height="3.90" fill="#6094c3"/>
<path d="M236.50,412.80 L236.50,423.90 L239.80,423.90 L239.80,420.50 L246.60,420.50 L246.60,412.80 Z" fill="#e04c4d"/>
<rect x="236.50" y="412.80" width="3.30" height="3.50" fill="#6094c3"/>
<rect x="250.30" y="450.90" width="3.10" height="6.90" fill="#a86ab2"/>
<path d="M28.50,504.60 L28.50,500.50 L31.00,500.50 L31.00,503.40 L46.40,503.40 L46.40,499.70 L48.42,499.70 L48.42,500.60 L50.44,500.60 L50.44,501.50 L52.46,501.50 L52.46,502.30 L54.48,502.30 L54.48,503.00 L56.50,503.00 L56.50,500.81 L58.67,500.81 L58.67,500.55 L60.83,500.55 L60.83,500.69 L63.00,500.69 L63.00,501.17 L65.17,501.17 L65.17,501.27 L67.33,501.27 L67.33,500.44 L69.50,500.44 L69.50,501.01 L71.67,501.01 L71.67,500.44 L73.83,500.44 L73.83,501.12 L76.00,501.12 L76.00,500.73 L78.17,500.73 L78.17,501.28 L80.33,501.28 L80.33,501.38 L82.50,501.38 L82.50,500.91 L84.67,500.91 L84.67,501.40 L86.83,501.40 L86.83,500.71 L89.00,500.71 L89.00,500.48 L91.17,500.48 L91.17,501.00 L93.33,501.00 L93.33,500.43 L95.50,500.43 L95.50,500.60 L97.67,500.60 L97.67,500.81 L99.83,500.81 L99.83,501.01 L102.00,501.01 L102.00,500.56 L104.17,500.56 L104.17,500.44 L106.33,500.44 L106.33,501.27 L108.50,501.27 L108.50,500.71 L110.67,500.71 L110.67,501.36 L112.83,501.36 L112.83,501.30 L115.00,501.30 L115.00,500.78 L117.17,500.78 L117.17,500.86 L119.33,500.86 L119.33,500.92 L121.50,500.92 L121.50,498.20 L131.60,498.20 L131.60,500.10 L134.10,500.10 L134.10,500.60 L136.60,500.60 L136.60,501.20 L139.10,501.20 L139.10,502.00 L141.60,502.00 L141.60,502.80 L144.50,502.80 L144.50,504.60 L161.80,504.60 L161.80,491.60 L165.00,491.60 L165.00,458.80 L185.50,458.80 L185.50,501.40 L192.60,501.40 L192.60,497.00 L202.60,497.00 L202.60,498.70 L216.50,498.70 L216.50,504.60 Z" fill="#65bd6c"/>
<rect x="216.50" y="458.80" width="6.50" height="45.80" fill="#f0934e"/>
<rect x="223.00" y="458.80" width="27.30" height="45.80" fill="#a86ab2"/>
<rect x="250.30" y="458.80" width="30.90" height="45.80" fill="#e04c4d"/>
<path d="M223.00,458.80 L223.00,476.00 L225.50,476.00 L225.50,468.50 L229.00,468.50 L229.00,464.30 L233.00,464.30 L233.00,458.80 Z" fill="#e04c4d"/>
<rect x="250.30" y="495.00" width="2.70" height="9.60" fill="#a86ab2"/>
<path d="M28.50,505.60 L28.50,510.30 L32.00,510.30 L32.00,505.60 L46.40,505.60 L46.40,511.50 L48.50,511.50 L48.50,509.00 L56.50,509.00 L56.50,510.72 L58.67,510.72 L58.67,510.62 L60.83,510.62 L60.83,510.54 L63.00,510.54 L63.00,510.54 L65.17,510.54 L65.17,510.74 L67.33,510.74 L67.33,510.34 L69.50,510.34 L69.50,510.22 L71.67,510.22 L71.67,510.40 L73.83,510.40 L73.83,509.96 L76.00,509.96 L76.00,509.96 L78.17,509.96 L78.17,510.45 L80.33,510.45 L80.33,510.03 L82.50,510.03 L82.50,510.00 L84.67,510.00 L84.67,509.52 L86.83,509.52 L86.83,509.79 L89.00,509.79 L89.00,509.86 L91.17,509.86 L91.17,509.36 L93.33,509.36 L93.33,509.79 L95.50,509.79 L95.50,509.75 L97.67,509.75 L97.67,509.23 L99.83,509.23 L99.83,509.64 L102.00,509.64 L102.00,509.45 L104.17,509.45 L104.17,509.57 L106.33,509.57 L106.33,509.26 L108.50,509.26 L108.50,509.49 L110.67,509.49 L110.67,509.46 L112.83,509.46 L112.83,508.83 L115.00,508.83 L115.00,508.81 L117.17,508.81 L117.17,509.25 L119.33,509.25 L119.33,509.42 L121.50,509.42 L121.50,510.00 L124.03,510.00 L124.03,509.70 L126.55,509.70 L126.55,509.40 L129.07,509.40 L129.07,509.00 L131.60,509.00 L131.60,509.00 L138.30,509.00 L138.30,505.60 L141.60,505.60 L141.60,531.50 L144.90,531.50 L144.90,551.00 L161.80,551.00 L161.80,508.50 L165.00,508.50 L165.00,505.60 L192.50,505.60 L192.50,508.00 L196.00,508.00 L196.00,505.60 L203.00,505.60 L203.00,510.80 L205.70,510.80 L205.70,510.40 L208.40,510.40 L208.40,510.00 L211.10,510.00 L211.10,509.60 L213.80,509.60 L213.80,509.20 L216.50,509.20 L216.50,505.60 Z" fill="#fef64e"/>
<path d="M46.40,551.00 L46.40,549.50 L121.50,549.50 L121.50,547.00 L131.60,547.00 L131.60,548.30 L141.60,548.30 L141.60,551.00 L161.80,551.00 L161.80,539.50 L165.00,539.50 L165.00,505.60 L185.50,505.60 L185.50,549.80 L192.60,549.80 L192.60,546.20 L202.60,546.20 L202.60,547.40 L216.50,547.40 L216.50,551.00 Z" fill="#65bd6c"/>
<rect x="216.50" y="505.60" width="6.50" height="45.40" fill="#f0934e"/>
<rect x="223.00" y="505.60" width="27.30" height="45.40" fill="#a86ab2"/>
<rect x="250.30" y="505.60" width="30.90" height="45.40" fill="#e04c4d"/>
<path d="M223.00,505.60 L223.00,522.50 L225.50,522.50 L225.50,514.90 L229.00,514.90 L229.00,510.60 L233.00,510.60 L233.00,505.60 Z" fill="#e04c4d"/>
<rect x="250.30" y="542.40" width="2.70" height="8.60" fill="#a86ab2"/>
<line x1="46.4" y1="319.5" x2="46.4" y2="551" stroke="#2a2a3a" stroke-width="0.7"/>
<line x1="56.5" y1="319.5" x2="56.5" y2="551" stroke="#2a2a3a" stroke-width="0.7"/>
<line x1="121.5" y1="319.5" x2="121.5" y2="551" stroke="#2a2a3a" stroke-width="0.7"/>
<line x1="131.6" y1="319.5" x2="131.6" y2="551" stroke="#2a2a3a" stroke-width="0.7"/>
<line x1="141.6" y1="319.5" x2="141.6" y2="551" stroke="#2a2a3a" stroke-width="0.7"/>
<line x1="161.8" y1="319.5" x2="161.8" y2="551" stroke="#2a2a3a" stroke-width="0.7"/>
<line x1="185.5" y1="319.5" x2="185.5" y2="551" stroke="#2a2a3a" stroke-width="0.7"/>
<line x1="192.6" y1="319.5" x2="192.6" y2="551" stroke="#2a2a3a" stroke-width="0.7"/>
<line x1="202.6" y1="319.5" x2="202.6" y2="551" stroke="#2a2a3a" stroke-width="0.7"/>
<line x1="216.5" y1="319.5" x2="216.5" y2="551" stroke="#2a2a3a" stroke-width="0.7"/>
<line x1="250.3" y1="319.5" x2="250.3" y2="551" stroke="#2a2a3a" stroke-width="0.7"/>
<line x1="28.5" y1="365.45" x2="281.2" y2="365.45" stroke="#222" stroke-width="2.0"/>
<line x1="28.5" y1="411.75" x2="281.2" y2="411.75" stroke="#222" stroke-width="2.0"/>
<line x1="28.5" y1="457.75" x2="281.2" y2="457.75" stroke="#222" stroke-width="2.0"/>
<line x1="28.5" y1="504.55" x2="281.2" y2="504.55" stroke="#222" stroke-width="2.0"/>
<rect x="28.5" y="319.5" width="252.7" height="231.5" fill="none" stroke="#1a1a1a" stroke-width="1"/>
<text x="13.7" y="340.3" text-anchor="middle" font-family='"Liberation Sans", sans-serif' font-weight="bold" font-size="6.5">K = 2</text>
<text x="13.7" y="386.8" text-anchor="middle" font-family='"Liberation Sans", sans-serif' font-weight="bold" font-size="6.5">K = 3</text>
<text x="13.7" y="433.0" text-anchor="middle" font-family='"Liberation Sans", sans-serif' font-weight="bold" font-size="6.5">K = 4</text>
<text x="13.7" y="479.4" text-anchor="middle" font-family='"Liberation Sans", sans-serif' font-weight="bold" font-size="6.5">K = 5</text>
<text x="13.7" y="526.0" text-anchor="middle" font-family='"Liberation Sans", sans-serif' font-weight="bold" font-size="6.5">K = 6</text>
<text transform="translate(30.2,565.9) rotate(45)" font-family='"Liberation Sans", sans-serif' font-size="5.6" fill="#222">Afshari</text>
<text transform="translate(47.6,565.9) rotate(45)" font-family='"Liberation Sans", sans-serif' font-size="5.6" fill="#222">Ghezel</text>
<text transform="translate(58.8,565.9) rotate(45)" font-family='"Liberation Sans", sans-serif' font-size="5.6" fill="#222">NW_Iran</text>
<text transform="translate(122.2,565.9) rotate(45)" font-family='"Liberation Sans", sans-serif' font-size="5.6" fill="#222">Grey_Shiraz</text>
<text transform="translate(132.4,565.9) rotate(45)" font-family='"Liberation Sans", sans-serif' font-size="5.6" fill="#222">Shal</text>
<text transform="translate(142.6,565.9) rotate(45)" font-family='"Liberation Sans", sans-serif' font-size="5.6" fill="#222">Ma_Mo</text>
<text transform="translate(163.3,565.9) rotate(45)" font-family='"Liberation Sans", sans-serif' font-size="5.6" fill="#222">Karakul</text>
<text transform="translate(186.8,565.9) rotate(45)" font-family='"Liberation Sans", sans-serif' font-size="5.6" fill="#222">Kermani</text>
<text transform="translate(194,565.9) rotate(45)" font-family='"Liberation Sans", sans-serif' font-size="5.6" fill="#222">Baluchi</text>
<text transform="translate(204.2,565.9) rotate(45)" font-family='"Liberation Sans", sans-serif' font-size="5.6" fill="#222">Zel</text>
<text transform="translate(217.4,565.9) rotate(45)" font-family='"Liberation Sans", sans-serif' font-size="5.6" fill="#222">A.Moufion</text>
<text transform="translate(252.2,565.9) rotate(45)" font-family='"Liberation Sans", sans-serif' font-size="5.6" fill="#222">Urial</text>
</g>
<g id="pd">
<text x="385.2" y="312.3" font-family='"Liberation Serif", serif' font-weight="bold" font-size="19">d)</text>
<line x1="531.1" y1="435.8" x2="498.8" y2="447.6" stroke="#111" stroke-width="1.3"/>
<line x1="498.8" y1="447.6" x2="470" y2="447.5" stroke="#111" stroke-width="1.3"/>
<line x1="531.1" y1="435.8" x2="431.9" y2="379.3" stroke="#8b1a1a" stroke-width="1.25"/>
<line x1="531.1" y1="435.8" x2="438.4" y2="373.2" stroke="#8b1a1a" stroke-width="1.25"/>
<line x1="531.1" y1="435.8" x2="444.2" y2="365.2" stroke="#8b1a1a" stroke-width="1.25"/>
<line x1="531.1" y1="435.8" x2="451.9" y2="354.4" stroke="#921e84" stroke-width="1.25"/>
<line x1="531.1" y1="435.8" x2="454.4" y2="344.8" stroke="#921e84" stroke-width="1.25"/>
<line x1="531.1" y1="435.8" x2="463.6" y2="342.1" stroke="#921e84" stroke-width="1.25"/>
<line x1="531.1" y1="435.8" x2="471.7" y2="338" stroke="#921e84" stroke-width="1.25"/>
<line x1="531.1" y1="435.8" x2="477.9" y2="329.9" stroke="#921e84" stroke-width="1.25"/>
<line x1="531.1" y1="435.8" x2="485" y2="323.7" stroke="#921e84" stroke-width="1.25"/>
<line x1="531.1" y1="435.8" x2="497.9" y2="325.2" stroke="#921e84" stroke-width="1.25"/>
<line x1="531.1" y1="435.8" x2="507.9" y2="315.5" stroke="#b8561e" stroke-width="1.25"/>
<line x1="531.1" y1="435.8" x2="515.1" y2="314.5" stroke="#b8561e" stroke-width="1.25"/>
<line x1="531.1" y1="435.8" x2="529.2" y2="322.7" stroke="#22cc22" stroke-width="1.25"/>
<line x1="531.1" y1="435.8" x2="535.9" y2="322.3" stroke="#22cc22" stroke-width="1.25"/>
<line x1="531.1" y1="435.8" x2="544.9" y2="325.2" stroke="#22cc22" stroke-width="1.25"/>
<line x1="531.1" y1="435.8" x2="557.4" y2="320.2" stroke="#1a1aee" stroke-width="1.25"/>
<line x1="531.1" y1="435.8" x2="567.4" y2="320.7" stroke="#1a1aee" stroke-width="1.25"/>
<line x1="531.1" y1="435.8" x2="574.8" y2="328.4" stroke="#1a1aee" stroke-width="1.25"/>
<line x1="531.1" y1="435.8" x2="583.4" y2="332.5" stroke="#1a1aee" stroke-width="1.25"/>
<line x1="531.1" y1="435.8" x2="591.5" y2="340.1" stroke="#f0a020" stroke-width="1.25"/>
<line x1="531.1" y1="435.8" x2="597.7" y2="346.8" stroke="#f0a020" stroke-width="1.25"/>
<line x1="531.1" y1="435.8" x2="605.4" y2="352.9" stroke="#f0a020" stroke-width="1.25"/>
<line x1="531.1" y1="435.8" x2="620.1" y2="352.9" stroke="#2299ee" stroke-width="1.25"/>
<line x1="531.1" y1="435.8" x2="619.1" y2="366" stroke="#2299ee" stroke-width="1.25"/>
<line x1="531.1" y1="435.8" x2="623.2" y2="373.8" stroke="#2299ee" stroke-width="1.25"/>
<line x1="531.1" y1="435.8" x2="632" y2="380.9" stroke="#999999" stroke-width="1.25"/>
<line x1="531.1" y1="435.8" x2="633.4" y2="390.8" stroke="#999999" stroke-width="1.25"/>
<line x1="531.1" y1="435.8" x2="642.5" y2="397.3" stroke="#999999" stroke-width="1.25"/>
<line x1="531.1" y1="435.8" x2="640.9" y2="408.9" stroke="#999999" stroke-width="1.25"/>
<line x1="531.1" y1="435.8" x2="642.5" y2="417.9" stroke="#999999" stroke-width="1.25"/>
<line x1="531.1" y1="435.8" x2="643.7" y2="427.3" stroke="#999999" stroke-width="1.25"/>
<line x1="531.1" y1="435.8" x2="643.7" y2="436.7" stroke="#999999" stroke-width="1.25"/>
<line x1="531.1" y1="435.8" x2="647.2" y2="446.2" stroke="#999999" stroke-width="1.25"/>
<line x1="531.1" y1="435.8" x2="642.5" y2="455.6" stroke="#999999" stroke-width="1.25"/>
<line x1="531.1" y1="435.8" x2="640" y2="464.2" stroke="#999999" stroke-width="1.25"/>
<line x1="531.1" y1="435.8" x2="638.5" y2="474.6" stroke="#999999" stroke-width="1.25"/>
<line x1="531.1" y1="435.8" x2="634.1" y2="482.9" stroke="#999999" stroke-width="1.25"/>
<line x1="531.1" y1="435.8" x2="629.6" y2="491.4" stroke="#999999" stroke-width="1.25"/>
<line x1="531.1" y1="435.8" x2="624" y2="499.3" stroke="#999999" stroke-width="1.25"/>
<line x1="531.1" y1="435.8" x2="619.5" y2="507.1" stroke="#999999" stroke-width="1.25"/>
<line x1="531.1" y1="435.8" x2="612.7" y2="513.9" stroke="#999999" stroke-width="1.25"/>
<line x1="531.1" y1="435.8" x2="606" y2="520.6" stroke="#999999" stroke-width="1.25"/>
<line x1="531.1" y1="435.8" x2="598.2" y2="526.2" stroke="#999999" stroke-width="1.25"/>
<line x1="531.1" y1="435.8" x2="590.5" y2="531.5" stroke="#999999" stroke-width="1.25"/>
<line x1="531.1" y1="435.8" x2="584" y2="541.8" stroke="#ff9900" stroke-width="1.25"/>
<line x1="531.1" y1="435.8" x2="576.2" y2="547.8" stroke="#ff9900" stroke-width="1.25"/>
<line x1="531.1" y1="435.8" x2="565.4" y2="545.7" stroke="#ff9900" stroke-width="1.25"/>
<line x1="531.1" y1="435.8" x2="555.8" y2="545.7" stroke="#ff9900" stroke-width="1.25"/>
<line x1="531.1" y1="435.8" x2="545" y2="545.1" stroke="#ff9900" stroke-width="1.25"/>
<line x1="531.1" y1="435.8" x2="533.6" y2="548.8" stroke="#f0f000" stroke-width="1.25"/>
<line x1="531.1" y1="435.8" x2="525.3" y2="547.8" stroke="#cccc00" stroke-width="1.25"/>
<line x1="531.1" y1="435.8" x2="515" y2="549.9" stroke="#f0f000" stroke-width="1.25"/>
<line x1="531.1" y1="435.8" x2="506" y2="549.9" stroke="#cccc00" stroke-width="1.25"/>
<line x1="531.1" y1="435.8" x2="497.3" y2="545.7" stroke="#f0f000" stroke-width="1.25"/>
<line x1="531.1" y1="435.8" x2="491.1" y2="540.9" stroke="#cccc00" stroke-width="1.25"/>
<line x1="498.8" y1="447.6" x2="436.7" y2="567.2" stroke="#e8103a" stroke-width="1.25"/>
<line x1="498.8" y1="447.6" x2="430.3" y2="557.4" stroke="#e8103a" stroke-width="1.25"/>
<line x1="498.8" y1="447.6" x2="418.7" y2="553.5" stroke="#e8103a" stroke-width="1.25"/>
<line x1="498.8" y1="447.6" x2="413.5" y2="545.8" stroke="#e8103a" stroke-width="1.25"/>
<line x1="498.8" y1="447.6" x2="394.7" y2="543.7" stroke="#e8103a" stroke-width="1.25"/>
<line x1="498.8" y1="447.6" x2="390.3" y2="538.8" stroke="#e8103a" stroke-width="1.25"/>
<line x1="498.8" y1="447.6" x2="380" y2="527.2" stroke="#e8103a" stroke-width="1.25"/>
<line x1="498.8" y1="447.6" x2="385.9" y2="508.4" stroke="#e8103a" stroke-width="1.25"/>
<line x1="498.8" y1="447.6" x2="380.8" y2="498.8" stroke="#e8103a" stroke-width="1.25"/>
<line x1="470" y1="447.5" x2="366.1" y2="481.4" stroke="#111111" stroke-width="1.25"/>
<line x1="470" y1="447.5" x2="363.2" y2="474.1" stroke="#111111" stroke-width="1.25"/>
<line x1="470" y1="447.5" x2="363.2" y2="466.8" stroke="#111111" stroke-width="1.25"/>
<line x1="470" y1="447.5" x2="360.9" y2="458" stroke="#111111" stroke-width="1.25"/>
<line x1="470" y1="447.5" x2="360.9" y2="447.5" stroke="#111111" stroke-width="1.25"/>
<line x1="470" y1="447.5" x2="360.3" y2="437" stroke="#111111" stroke-width="1.25"/>
<line x1="470" y1="447.5" x2="360.9" y2="428.2" stroke="#111111" stroke-width="1.25"/>
<line x1="470" y1="447.5" x2="363.2" y2="419.5" stroke="#111111" stroke-width="1.25"/>
<line x1="470" y1="447.5" x2="366.1" y2="408.4" stroke="#111111" stroke-width="1.25"/>
<line x1="494.6" y1="447.8" x2="378.4" y2="395.8" stroke="#e8103a" stroke-width="1.25"/>
<text transform="translate(426.7,376.3) rotate(29.7)" dy="2" text-anchor="end" font-family='"Liberation Sans", sans-serif' font-weight="bold" font-size="5.8" fill="#111">GEZ2</text>
<text transform="translate(433.4,369.8) rotate(34.0)" dy="2" text-anchor="end" font-family='"Liberation Sans", sans-serif' font-weight="bold" font-size="5.8" fill="#111">GEZ3</text>
<text transform="translate(439.5,361.4) rotate(39.1)" dy="2" text-anchor="end" font-family='"Liberation Sans", sans-serif' font-weight="bold" font-size="5.8" fill="#111">GEZ1</text>
<text transform="translate(447.7,350.1) rotate(45.8)" dy="2" text-anchor="end" font-family='"Liberation Sans", sans-serif' font-weight="bold" font-size="5.8" fill="#111">KAR4</text>
<text transform="translate(450.5,340.2) rotate(49.9)" dy="2" text-anchor="end" font-family='"Liberation Sans", sans-serif' font-weight="bold" font-size="5.8" fill="#111">KAR7</text>
<text transform="translate(460.1,337.2) rotate(54.2)" dy="2" text-anchor="end" font-family='"Liberation Sans", sans-serif' font-weight="bold" font-size="5.8" fill="#111">KAR3</text>
<text transform="translate(468.6,332.9) rotate(58.7)" dy="2" text-anchor="end" font-family='"Liberation Sans", sans-serif' font-weight="bold" font-size="5.8" fill="#111">KAR2</text>
<text transform="translate(475.2,324.5) rotate(63.3)" dy="2" text-anchor="end" font-family='"Liberation Sans", sans-serif' font-weight="bold" font-size="5.8" fill="#111">KAR5</text>
<text transform="translate(482.7,318.2) rotate(67.6)" dy="2" text-anchor="end" font-family='"Liberation Sans", sans-serif' font-weight="bold" font-size="5.8" fill="#111">KAR6</text>
<text transform="translate(496.2,319.5) rotate(73.3)" dy="2" text-anchor="end" font-family='"Liberation Sans", sans-serif' font-weight="bold" font-size="5.8" fill="#111">KAR1</text>
<text transform="translate(506.8,309.6) rotate(79.1)" dy="2" text-anchor="end" font-family='"Liberation Sans", sans-serif' font-weight="bold" font-size="5.8" fill="#111">KER1</text>
<text transform="translate(514.3,308.6) rotate(82.5)" dy="2" text-anchor="end" font-family='"Liberation Sans", sans-serif' font-weight="bold" font-size="5.8" fill="#111">KER2</text>
<text transform="translate(529.1,316.7) rotate(89.0)" dy="2" text-anchor="end" font-family='"Liberation Sans", sans-serif' font-weight="bold" font-size="5.8" fill="#111">BAL1</text>
<text transform="translate(536.2,316.3) rotate(92.4)" dy="2" text-anchor="end" font-family='"Liberation Sans", sans-serif' font-weight="bold" font-size="5.8" fill="#111">BAL3</text>
<text transform="translate(545.6,319.2) rotate(97.1)" dy="2" text-anchor="end" font-family='"Liberation Sans", sans-serif' font-weight="bold" font-size="5.8" fill="#111">BAL2</text>
<text transform="translate(558.7,314.3) rotate(102.8)" dy="2" text-anchor="end" font-family='"Liberation Sans", sans-serif' font-weight="bold" font-size="5.8" fill="#111">ZEL1</text>
<text transform="translate(569.2,315.0) rotate(107.5)" dy="2" text-anchor="end" font-family='"Liberation Sans", sans-serif' font-weight="bold" font-size="5.8" fill="#111">ZEL3</text>
<text transform="translate(577.1,322.8) rotate(112.1)" dy="2" text-anchor="end" font-family='"Liberation Sans", sans-serif' font-weight="bold" font-size="5.8" fill="#111">ZEL4</text>
<text transform="translate(586.1,327.1) rotate(116.9)" dy="2" text-anchor="end" font-family='"Liberation Sans", sans-serif' font-weight="bold" font-size="5.8" fill="#111">ZEL2</text>
<text transform="translate(594.7,335.0) rotate(122.3)" dy="2" text-anchor="end" font-family='"Liberation Sans", sans-serif' font-weight="bold" font-size="5.8" fill="#111">GRE2</text>
<text transform="translate(601.3,342.0) rotate(126.8)" dy="2" text-anchor="end" font-family='"Liberation Sans", sans-serif' font-weight="bold" font-size="5.8" fill="#111">GRE3</text>
<text transform="translate(609.4,348.4) rotate(131.9)" dy="2" text-anchor="end" font-family='"Liberation Sans", sans-serif' font-weight="bold" font-size="5.8" fill="#111">GRE1</text>
<text transform="translate(624.5,348.8) rotate(137.0)" dy="2" text-anchor="end" font-family='"Liberation Sans", sans-serif' font-weight="bold" font-size="5.8" fill="#111">SHA2</text>
<text transform="translate(623.8,362.3) rotate(141.6)" dy="2" text-anchor="end" font-family='"Liberation Sans", sans-serif' font-weight="bold" font-size="5.8" fill="#111">SHA4</text>
<text transform="translate(628.2,370.4) rotate(146.1)" dy="2" text-anchor="end" font-family='"Liberation Sans", sans-serif' font-weight="bold" font-size="5.8" fill="#111">SHA1</text>
<text transform="translate(637.3,378.0) rotate(151.4)" dy="2" text-anchor="end" font-family='"Liberation Sans", sans-serif' font-weight="bold" font-size="5.8" fill="#111">AHA2</text>
<text transform="translate(638.9,388.4) rotate(336.3)" dy="2" text-anchor="start" font-family='"Liberation Sans", sans-serif' font-weight="bold" font-size="5.8" fill="#111">MES</text>
<text transform="translate(648.2,395.3) rotate(340.9)" dy="2" text-anchor="start" font-family='"Liberation Sans", sans-serif' font-weight="bold" font-size="5.8" fill="#111">AHA1</text>
<text transform="translate(646.7,407.5) rotate(346.2)" dy="2" text-anchor="start" font-family='"Liberation Sans", sans-serif' font-weight="bold" font-size="5.8" fill="#111">NAQ1</text>
<text transform="translate(648.4,416.9) rotate(350.9)" dy="2" text-anchor="start" font-family='"Liberation Sans", sans-serif' font-weight="bold" font-size="5.8" fill="#111">SAL</text>
<text transform="translate(649.7,426.8) rotate(355.7)" dy="2" text-anchor="start" font-family='"Liberation Sans", sans-serif' font-weight="bold" font-size="5.8" fill="#111">URM</text>
<text transform="translate(649.7,436.7) rotate(0.5)" dy="2" text-anchor="start" font-family='"Liberation Sans", sans-serif' font-weight="bold" font-size="5.8" fill="#111">ILB</text>
<text transform="translate(653.2,446.7) rotate(5.1)" dy="2" text-anchor="start" font-family='"Liberation Sans", sans-serif' font-weight="bold" font-size="5.8" fill="#111">KHO</text>
<text transform="translate(648.4,456.6) rotate(10.1)" dy="2" text-anchor="start" font-family='"Liberation Sans", sans-serif' font-weight="bold" font-size="5.8" fill="#111">MA_C</text>
<text transform="translate(645.8,465.7) rotate(14.6)" dy="2" text-anchor="start" font-family='"Liberation Sans", sans-serif' font-weight="bold" font-size="5.8" fill="#111">QAR</text>
<text transform="translate(644.1,476.6) rotate(19.9)" dy="2" text-anchor="start" font-family='"Liberation Sans", sans-serif' font-weight="bold" font-size="5.8" fill="#111">AJA</text>
<text transform="translate(639.6,485.4) rotate(24.6)" dy="2" text-anchor="start" font-family='"Liberation Sans", sans-serif' font-weight="bold" font-size="5.8" fill="#111">MIA</text>
<text transform="translate(634.8,494.3) rotate(29.4)" dy="2" text-anchor="start" font-family='"Liberation Sans", sans-serif' font-weight="bold" font-size="5.8" fill="#111">OSK</text>
<text transform="translate(629.0,502.7) rotate(34.4)" dy="2" text-anchor="start" font-family='"Liberation Sans", sans-serif' font-weight="bold" font-size="5.8" fill="#111">BOB</text>
<text transform="translate(624.2,510.9) rotate(38.9)" dy="2" text-anchor="start" font-family='"Liberation Sans", sans-serif' font-weight="bold" font-size="5.8" fill="#111">MAL</text>
<text transform="translate(617.0,518.0) rotate(43.7)" dy="2" text-anchor="start" font-family='"Liberation Sans", sans-serif' font-weight="bold" font-size="5.8" fill="#111">NAQ3</text>
<text transform="translate(610.0,525.1) rotate(48.5)" dy="2" text-anchor="start" font-family='"Liberation Sans", sans-serif' font-weight="bold" font-size="5.8" fill="#111">OSH</text>
<text transform="translate(601.8,531.0) rotate(53.4)" dy="2" text-anchor="start" font-family='"Liberation Sans", sans-serif' font-weight="bold" font-size="5.8" fill="#111">NAQ2</text>
<text transform="translate(593.7,536.6) rotate(58.2)" dy="2" text-anchor="start" font-family='"Liberation Sans", sans-serif' font-weight="bold" font-size="5.8" fill="#111">AZA</text>
<text transform="translate(586.7,547.2) rotate(63.5)" dy="2" text-anchor="start" font-family='"Liberation Sans", sans-serif' font-weight="bold" font-size="5.8" fill="#111">AFS3</text>
<text transform="translate(578.4,553.4) rotate(68.1)" dy="2" text-anchor="start" font-family='"Liberation Sans", sans-serif' font-weight="bold" font-size="5.8" fill="#111">AFS6</text>
<text transform="translate(567.2,551.4) rotate(72.7)" dy="2" text-anchor="start" font-family='"Liberation Sans", sans-serif' font-weight="bold" font-size="5.8" fill="#111">AFS2</text>
<text transform="translate(557.1,551.6) rotate(77.3)" dy="2" text-anchor="start" font-family='"Liberation Sans", sans-serif' font-weight="bold" font-size="5.8" fill="#111">AFS1</text>
<text transform="translate(545.8,551.1) rotate(82.8)" dy="2" text-anchor="start" font-family='"Liberation Sans", sans-serif' font-weight="bold" font-size="5.8" fill="#111">AFS4</text>
<text transform="translate(533.7,554.8) rotate(88.7)" dy="2" text-anchor="start" font-family='"Liberation Sans", sans-serif' font-weight="bold" font-size="5.8" fill="#111">MAK3</text>
<text transform="translate(525.0,553.8) rotate(93.0)" dy="2" text-anchor="start" font-family='"Liberation Sans", sans-serif' font-weight="bold" font-size="5.8" fill="#111">MOG1</text>
<text transform="translate(514.2,555.8) rotate(98.0)" dy="2" text-anchor="start" font-family='"Liberation Sans", sans-serif' font-weight="bold" font-size="5.8" fill="#111">MAK1</text>
<text transform="translate(504.7,555.8) rotate(102.4)" dy="2" text-anchor="start" font-family='"Liberation Sans", sans-serif' font-weight="bold" font-size="5.8" fill="#111">MOG3</text>
<text transform="translate(495.5,551.4) rotate(107.1)" dy="2" text-anchor="start" font-family='"Liberation Sans", sans-serif' font-weight="bold" font-size="5.8" fill="#111">MAK2</text>
<text transform="translate(489.0,546.5) rotate(110.8)" dy="2" text-anchor="start" font-family='"Liberation Sans", sans-serif' font-weight="bold" font-size="5.8" fill="#111">MOG2</text>
<text transform="translate(433.9,572.5) rotate(117.4)" dy="2" text-anchor="start" font-family='"Liberation Sans", sans-serif' font-weight="bold" font-size="5.8" fill="#111">ASM17</text>
<text transform="translate(427.1,562.5) rotate(122.0)" dy="2" text-anchor="start" font-family='"Liberation Sans", sans-serif' font-weight="bold" font-size="5.8" fill="#111">ASM4</text>
<text transform="translate(415.1,558.3) rotate(127.1)" dy="2" text-anchor="start" font-family='"Liberation Sans", sans-serif' font-weight="bold" font-size="5.8" fill="#111">ASM1</text>
<text transform="translate(409.6,550.3) rotate(131.0)" dy="2" text-anchor="start" font-family='"Liberation Sans", sans-serif' font-weight="bold" font-size="5.8" fill="#111">ASM9</text>
<text transform="translate(390.3,547.8) rotate(137.3)" dy="2" text-anchor="start" font-family='"Liberation Sans", sans-serif' font-weight="bold" font-size="5.8" fill="#111">ASM3</text>
<text transform="translate(385.7,542.7) rotate(140.0)" dy="2" text-anchor="start" font-family='"Liberation Sans", sans-serif' font-weight="bold" font-size="5.8" fill="#111">ASM5</text>
<text transform="translate(375.0,530.5) rotate(146.2)" dy="2" text-anchor="start" font-family='"Liberation Sans", sans-serif' font-weight="bold" font-size="5.8" fill="#111">ASM8</text>
<text transform="translate(380.6,511.2) rotate(151.7)" dy="2" text-anchor="start" font-family='"Liberation Sans", sans-serif' font-weight="bold" font-size="5.8" fill="#111">ASM2</text>
<text transform="translate(375.3,501.2) rotate(-23.5)" dy="2" text-anchor="end" font-family='"Liberation Sans", sans-serif' font-weight="bold" font-size="5.8" fill="#111">ASM6</text>
<text transform="translate(360.4,483.3) rotate(-18.1)" dy="2" text-anchor="end" font-family='"Liberation Sans", sans-serif' font-weight="bold" font-size="5.8" fill="#111">URI6</text>
<text transform="translate(357.4,475.6) rotate(-14.0)" dy="2" text-anchor="end" font-family='"Liberation Sans", sans-serif' font-weight="bold" font-size="5.8" fill="#111">URI8</text>
<text transform="translate(357.3,467.9) rotate(-10.2)" dy="2" text-anchor="end" font-family='"Liberation Sans", sans-serif' font-weight="bold" font-size="5.8" fill="#111">URI9</text>
<text transform="translate(354.9,458.6) rotate(-5.5)" dy="2" text-anchor="end" font-family='"Liberation Sans", sans-serif' font-weight="bold" font-size="5.8" fill="#111">URI7</text>
<text transform="translate(354.9,447.5) rotate(0.0)" dy="2" text-anchor="end" font-family='"Liberation Sans", sans-serif' font-weight="bold" font-size="5.8" fill="#111">URI10</text>
<text transform="translate(354.3,436.4) rotate(5.5)" dy="2" text-anchor="end" font-family='"Liberation Sans", sans-serif' font-weight="bold" font-size="5.8" fill="#111">URI3</text>
<text transform="translate(355.0,427.2) rotate(10.0)" dy="2" text-anchor="end" font-family='"Liberation Sans", sans-serif' font-weight="bold" font-size="5.8" fill="#111">URI4</text>
<text transform="translate(357.4,418.0) rotate(14.7)" dy="2" text-anchor="end" font-family='"Liberation Sans", sans-serif' font-weight="bold" font-size="5.8" fill="#111">URI2</text>
<text transform="translate(360.5,406.3) rotate(20.6)" dy="2" text-anchor="end" font-family='"Liberation Sans", sans-serif' font-weight="bold" font-size="5.8" fill="#111">URI5</text>
<text transform="translate(372.9,393.3) rotate(24.1)" dy="2" text-anchor="end" font-family='"Liberation Sans", sans-serif' font-weight="bold" font-size="5.8" fill="#111">ASM7</text>
</g>
</svg>
</body></html>
